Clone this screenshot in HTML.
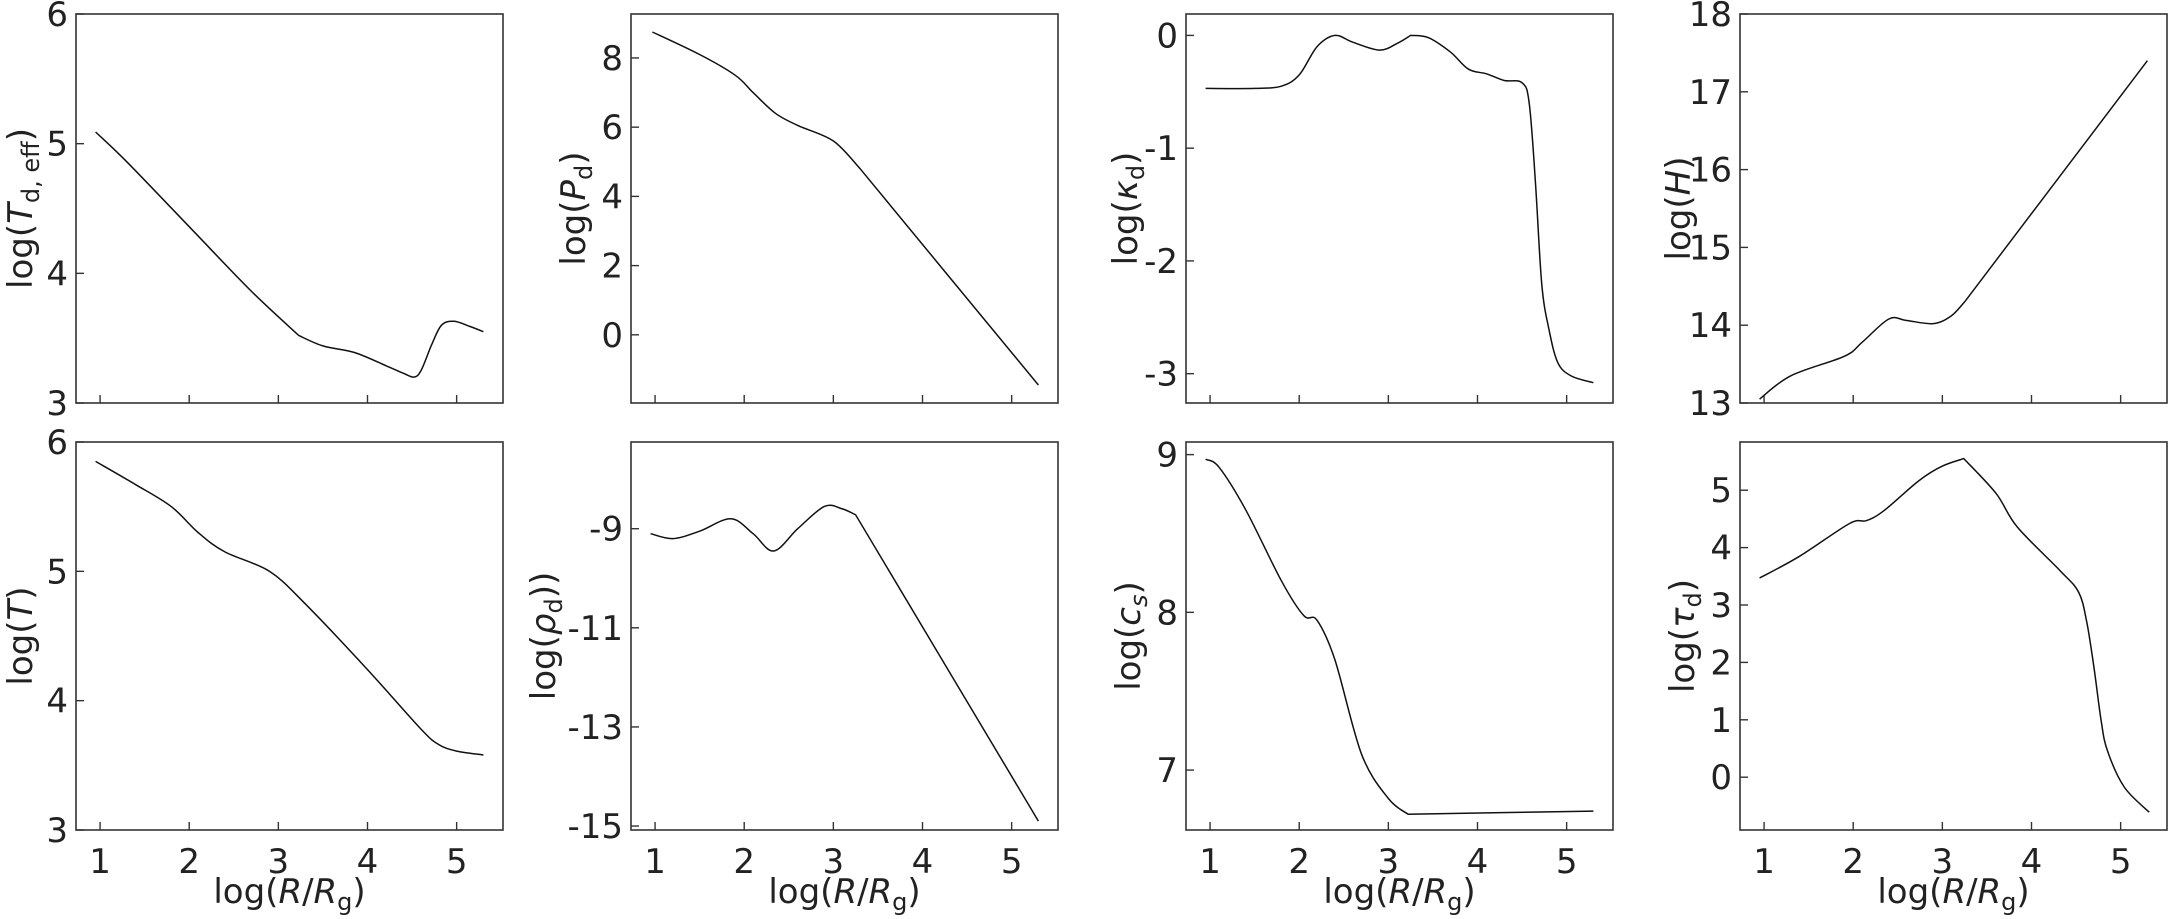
<!DOCTYPE html>
<html><head><meta charset="utf-8"><style>
html,body{margin:0;padding:0;background:#fff;}
svg{display:block;}
text{font-family:"DejaVu Sans","Liberation Sans",sans-serif;fill:#222;}
</style></head><body>
<svg id="s" width="2170" height="919" xmlns="http://www.w3.org/2000/svg"></svg>
<script>
const S=document.getElementById('s');
const NS='http://www.w3.org/2000/svg';
function el(t,a,txt){const e=document.createElementNS(NS,t);for(const k in a)e.setAttribute(k,a[k]);if(txt!==undefined)e.innerHTML=txt;S.appendChild(e);return e;}
const W=427;
const lefts=[76,631,1186,1740];
const rows=[[14,403],[442,830]];
const X0=0.73,X1=5.52;
const FS=34, SFS=24;
const sub=(s,it)=>'<tspan font-size="'+SFS+'"'+(it?' font-style="italic"':'')+' dy="7">'+s+'</tspan><tspan dy="-7">';
const panels=[
 {r:0,c:0,y0:3,y1:6,ticks:[3,4,5,6],lab:'log(<tspan font-style="italic">T</tspan>'+sub('d, eff')+')</tspan>',off:44,
  d:[[0.95,5.09],[1.3,4.86],[2.0,4.36],[2.7,3.86],[3.23,3.52],[3.5,3.44],[3.85,3.39],[4.2,3.29],[4.4,3.23],[4.52,3.2],[4.6,3.25],[4.72,3.45],[4.83,3.6],[4.97,3.63],[5.15,3.59],[5.3,3.55]],kinks:[4]},
 {r:0,c:1,y0:-1.97,y1:9.27,ticks:[0,2,4,6,8],lab:'log(<tspan font-style="italic">P</tspan>'+sub('d')+')</tspan>',off:46,
  d:[[0.97,8.75],[1.5,8.1],[1.9,7.5],[2.1,7.0],[2.35,6.4],[2.6,6.05],[3.0,5.6],[3.3,4.8],[5.3,-1.45]],kinks:[7]},
 {r:0,c:2,y0:-3.26,y1:0.19,ticks:[-3,-2,-1,0],lab:'log(<tspan font-style="italic">κ</tspan>'+sub('d')+')</tspan>',off:49,
  d:[[0.95,-0.47],[1.5,-0.47],[1.8,-0.45],[2.0,-0.35],[2.2,-0.1],[2.4,0.0],[2.6,-0.06],[2.9,-0.13],[3.1,-0.07],[3.25,0.0],[3.45,-0.02],[3.7,-0.15],[3.9,-0.3],[4.1,-0.34],[4.3,-0.4],[4.5,-0.42],[4.58,-0.6],[4.65,-1.3],[4.72,-2.2],[4.8,-2.6],[4.9,-2.9],[5.05,-3.02],[5.3,-3.08]],kinks:[9]},
 {r:0,c:3,y0:13,y1:18,ticks:[13,14,15,16,17,18],lab:'log(<tspan font-style="italic">H</tspan>)',off:50,
  d:[[0.95,13.05],[1.3,13.35],[1.9,13.6],[2.1,13.78],[2.4,14.08],[2.6,14.06],[2.9,14.02],[3.1,14.12],[3.25,14.3],[5.3,17.4]],kinks:[8]},
 {r:1,c:0,y0:3,y1:6,ticks:[3,4,5,6],lab:'log(<tspan font-style="italic">T</tspan>)',off:44,
  d:[[0.95,5.85],[1.4,5.67],[1.8,5.5],[2.1,5.3],[2.4,5.15],[2.9,5.0],[3.3,4.75],[4.0,4.24],[4.6,3.78],[4.8,3.66],[5.0,3.61],[5.3,3.58]]},
 {r:1,c:1,y0:-15.08,y1:-7.25,ticks:[-15,-13,-11,-9],lab:'log(<tspan font-style="italic">ρ</tspan>'+sub('d')+'))</tspan>',off:76,
  d:[[0.95,-9.1],[1.2,-9.2],[1.5,-9.05],[1.85,-8.8],[2.1,-9.1],[2.33,-9.45],[2.6,-9.0],[2.9,-8.55],[3.1,-8.6],[3.25,-8.72],[5.3,-14.9]],kinks:[9]},
 {r:1,c:2,y0:6.62,y1:9.08,ticks:[7,8,9],lab:'log(<tspan font-style="italic">c</tspan>'+sub('s',true)+')</tspan>',off:46,
  d:[[0.95,8.97],[1.1,8.92],[1.4,8.65],[1.8,8.2],[2.05,7.98],[2.2,7.95],[2.4,7.7],[2.7,7.1],[3.0,6.82],[3.22,6.72],[5.3,6.74]],kinks:[9]},
 {r:1,c:3,y0:-0.92,y1:5.84,ticks:[0,1,2,3,4,5],lab:'log(<tspan font-style="italic">τ</tspan>'+sub('d')+')</tspan>',off:46,
  d:[[0.95,3.47],[1.4,3.85],[1.96,4.42],[2.15,4.47],[2.35,4.65],[2.74,5.17],[3.0,5.42],[3.24,5.55],[3.6,4.95],[3.84,4.36],[4.32,3.6],[4.53,3.22],[4.62,2.7],[4.7,1.92],[4.78,1.0],[4.85,0.47],[5.04,-0.17],[5.32,-0.61]],kinks:[7]},
];
function path(pts,kinks){
 kinks=kinks||[];
 let d='M'+pts[0][0].toFixed(1)+' '+pts[0][1].toFixed(1);
 for(let i=0;i<pts.length-1;i++){
  const p0=pts[Math.max(i-1,0)],p1=pts[i],p2=pts[i+1],p3=pts[Math.min(i+2,pts.length-1)];
  let a=p0,b=p3;
  if(kinks.includes(i))a=p1;
  if(kinks.includes(i+1))b=p2;
  const c1=[p1[0]+(p2[0]-a[0])/6,p1[1]+(p2[1]-a[1])/6];
  const c2=[p2[0]-(b[0]-p1[0])/6,p2[1]-(b[1]-p1[1])/6];
  d+=` C${c1[0].toFixed(1)} ${c1[1].toFixed(1)} ${c2[0].toFixed(1)} ${c2[1].toFixed(1)} ${p2[0].toFixed(1)} ${p2[1].toFixed(1)}`;
 }
 return d;
}
for(const p of panels){
 const L=lefts[p.c],T=rows[p.r][0],B=rows[p.r][1],H=B-T;
 const fx=x=>L+(x-X0)/(X1-X0)*W;
 const fy=y=>B-(y-p.y0)/(p.y1-p.y0)*H;
 el('rect',{x:L,y:T,width:W,height:H,fill:'none',stroke:'#333','stroke-width':1.6});
 for(let k=1;k<=5;k++){
  const x=fx(k);
  el('line',{x1:x,x2:x,y1:B,y2:B-8,stroke:'#333','stroke-width':1.4});
  if(p.r==1)el('text',{x:x,y:873,'text-anchor':'middle','font-size':FS},k);
 }
 for(const t of p.ticks){
  const y=fy(t);
  el('line',{x1:L,x2:L+8,y1:y,y2:y,stroke:'#333','stroke-width':1.4});
  el('text',{x:L-8,y:y+12,'text-anchor':'end','font-size':FS},String(t));
 }
 const pts=p.d.map(q=>[fx(q[0]),fy(q[1])]);
 el('path',{d:path(pts,p.kinks),fill:'none',stroke:'#111','stroke-width':1.5});
 const lx=L-p.off, ly=(T+B)/2;
 el('text',{x:lx,y:ly,'text-anchor':'middle','font-size':FS,transform:`rotate(-90 ${lx} ${ly})`},p.lab);
 if(p.r==1){
  el('text',{x:L+W/2,y:903,'text-anchor':'middle','font-size':FS},'log(<tspan font-style="italic">R</tspan>/<tspan font-style="italic">R</tspan>'+sub('g')+')</tspan>');
 }
}
</script>
</body></html>
